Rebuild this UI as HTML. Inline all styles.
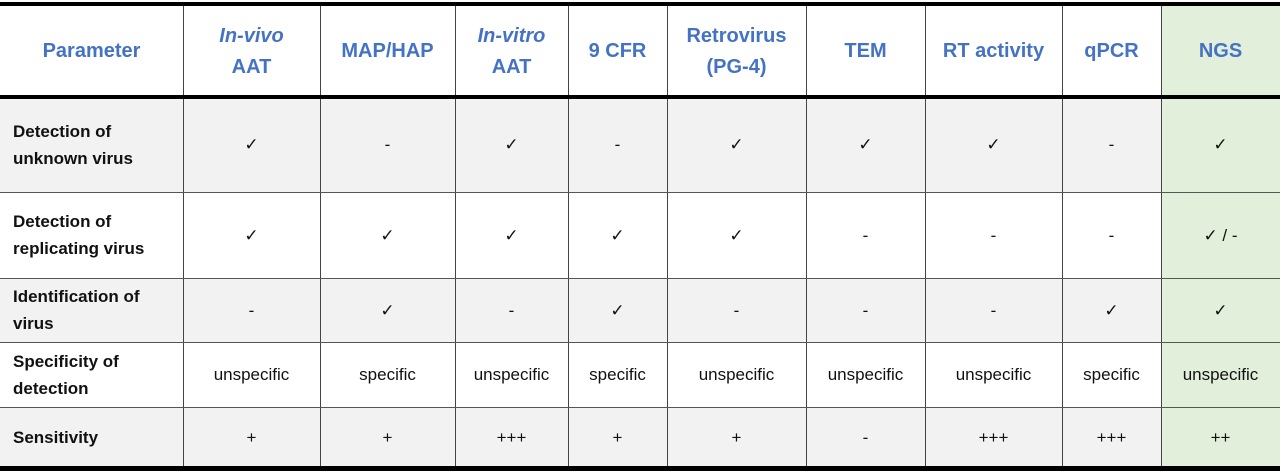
<!DOCTYPE html>
<html><head><style>
body{margin:0;width:1280px;height:474px;background:#fff;font-family:"Liberation Sans",sans-serif;overflow:hidden;position:relative}
.c{position:absolute;display:flex;align-items:center;justify-content:center;text-align:center;box-sizing:border-box;font-size:17px;color:#111;line-height:27px}
.h{color:#4472c4;font-weight:bold;font-size:20px;line-height:31px}
.p{justify-content:flex-start;text-align:left;padding-left:13px;font-weight:bold}
.hl{position:absolute;left:0;width:1280px;background:#000}
.vl{position:absolute;width:1px;background:#444}
</style></head><body>
<div id="t"></div>
<script>
const xs=[0,183,320,455,568,667,806,925,1062,1161,1280];
const ys=[6,97,192,278,342,407,467];
const rows=[
["Parameter","<i>In-vivo</i><br>AAT","MAP/HAP","<i>In-vitro</i><br>AAT","9 CFR","Retrovirus<br>(PG-4)","TEM","RT activity","qPCR","NGS"],
["Detection of<br>unknown virus","✓","-","✓","-","✓","✓","✓","-","✓"],
["Detection of<br>replicating virus","✓","✓","✓","✓","✓","-","-","-","✓ / -"],
["Identification of<br>virus","-","✓","-","✓","-","-","-","✓","✓"],
["Specificity of<br>detection","unspecific","specific","unspecific","specific","unspecific","unspecific","unspecific","specific","unspecific"],
["Sensitivity","+","+","+++","+","+","-","+++","+++","++"]];
let h="";
rows.forEach((r,i)=>{r.forEach((t,j)=>{
let bg=j==9?"#e2efda":(i%2==1||i==5?"#f2f2f2":"#fff");
if(i==0&&j<9)bg="#fff";
let cls="c"+(i==0?" h":"")+(i>0&&j==0?" p":"");
h+=`<div class="${cls}" style="left:${xs[j]}px;top:${ys[i]}px;width:${xs[j+1]-xs[j]}px;height:${ys[i+1]-ys[i]}px;background:${bg}"><span>${t}</span></div>`;});});
for(let j=1;j<10;j++)h+=`<div class="vl" style="left:${xs[j]}px;top:6px;height:461px"></div>`;
h+=`<div class="hl" style="top:2px;height:4px"></div><div class="hl" style="top:95px;height:4px"></div><div class="hl" style="top:466px;height:5px"></div>`;
[192,278,342,407].forEach(y=>h+=`<div class="hl" style="top:${y}px;height:1px;background:#555"></div>`);
document.getElementById("t").innerHTML=h;
</script>
</body></html>
